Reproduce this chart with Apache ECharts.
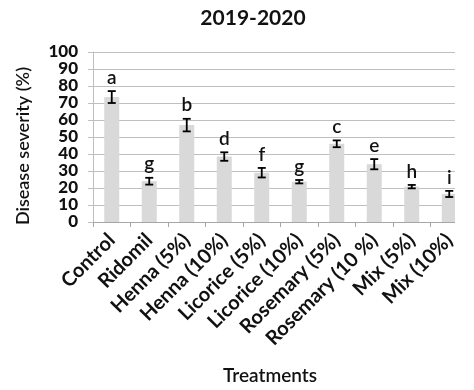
<!DOCTYPE html>
<html><head><meta charset="utf-8">
<script src="https://cdn.jsdelivr.net/npm/echarts@6/dist/echarts.min.js"></script>
<style>html,body{margin:0;padding:0;background:#fff}#c{width:474px;height:390px}</style>
</head><body><div id="c"></div>
<script>
const categories = ['Control','Ridomil','Henna (5%)','Henna (10%)','Licorice (5%)','Licorice (10%)','Rosemary (5%)','Rosemary (10 %)','Mix (5%)','Mix (10%)'];
const severity = [73.5, 24, 57, 38.5, 29, 23.7, 46, 34, 20.8, 16.5];
const errors = [3.5, 2, 3.7, 2.5, 2.8, 1, 2, 3, 1, 1.8];
const letters = ['a','g','b','d','f','g','c','e','h','i'];
const yTicks = [0,10,20,30,40,50,60,70,80,90,100];

const FONT = 'Lato';
const chart = echarts.init(document.getElementById('c'), null, {renderer:'canvas'});
const errData = severity.map((v,i)=>[i, v, errors[i], letters[i]]);
chart.setOption({
  animation:false,
  title:[
    {text:'2019-2020', left:248, top:3, textAlign:'center',
     textStyle:{fontFamily:FONT, fontWeight:'bold', fontSize:21, color:'#111'}},
    {text:'Treatments', left:265, top:361, textAlign:'center',
     textStyle:{fontFamily:FONT, fontWeight:'600', fontSize:19, color:'#111'}}
  ],
  grid:{left:93, right:6, top:52, bottom:168, containLabel:false},
  xAxis:{
    type:'category', data:categories, boundaryGap:true,
    axisLine:{show:true, lineStyle:{color:'#a6a6a6', width:1}},
    axisTick:{show:true, alignWithLabel:false, length:5, lineStyle:{color:'#a6a6a6'}},
    axisLabel:{rotate:45, interval:0, margin:15, fontFamily:FONT, fontWeight:'bold', fontSize:20, color:'#111'}
  },
  yAxis:{
    type:'value', min:0, max:100, interval:10,
    name:'Disease severity (%)', nameLocation:'middle', nameGap:61, nameRotate:90,
    nameTextStyle:{fontFamily:FONT, fontWeight:'600', fontSize:18, color:'#111', padding:[0,0,0,-18]},
    axisLine:{show:true, lineStyle:{color:'#bfbfbf'}},
    axisTick:{show:true, inside:false, length:5, lineStyle:{color:'#bfbfbf'}},
    splitLine:{show:true, lineStyle:{color:'#bfbfbf', width:1}},
    axisLabel:{margin:15, fontFamily:FONT, fontWeight:'900', fontSize:17, color:'#111',
      formatter:v=>yTicks.includes(v)?String(v):''}
  },
  graphic:[
    {type:'rect', left:455, top:40, z:100, shape:{width:19, height:190}, style:{fill:'#fff'}}
  ],
  series:[
    {type:'bar', data:severity, barWidth:'40%', itemStyle:{color:'#d9d9d9'}, z:2},
    {type:'custom', data:errData, z:5,
     renderItem:function(params, api){
       const x = api.value(0), v = api.value(1), e = api.value(2);
       const top = api.coord([x, v+e]);
       const bot = api.coord([x, v-e]);
       const cw = 4;
       const st = {stroke:'#000', lineWidth:1.8};
       return {type:'group', children:[
         {type:'line', shape:{x1:top[0], y1:top[1], x2:bot[0], y2:bot[1]}, style:st},
         {type:'line', shape:{x1:top[0]-cw, y1:top[1], x2:top[0]+cw, y2:top[1]}, style:st},
         {type:'line', shape:{x1:bot[0]-cw, y1:bot[1], x2:bot[0]+cw, y2:bot[1]}, style:st},
         {type:'text', x:top[0], y:top[1]-4, style:{text:letters[params.dataIndex], fontFamily:FONT,
           fontSize:19, fontWeight:'600', fill:'#111', align:'center', verticalAlign:'bottom'}}
       ]};
     }}
  ]
});
</script></body></html>
